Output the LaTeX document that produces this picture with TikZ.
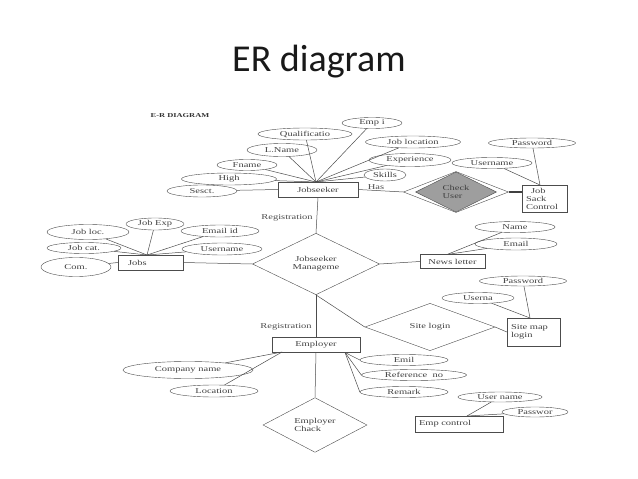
\documentclass[tikz,border=0pt]{standalone}
\usepackage{fontspec}
\setmainfont{Liberation Serif}[FakeStretch=1.4]
\newfontfamily\titlefont{Carlito}
\usetikzlibrary{shapes.geometric,positioning}

\begin{document}
\begin{tikzpicture}[x=1pt,y=-1pt,font=\fontsize{7.5}{8}\selectfont]
        % Define styles for nodes and edges
        \tikzstyle{attr} = [ellipse, draw=black!70, inner sep=0pt, text=black!75]
        \tikzstyle{entity} = [rectangle, draw=black!70, inner sep=0pt, text=black!75]
        \tikzstyle{rel} = [diamond, draw=black!70, inner sep=0pt, text=black!75]
        \tikzstyle{lbl} = [text=black!70]
        \tikzstyle{line} = [draw=black!70, line width=0.5pt]

        \useasboundingbox (0,0) rectangle (638,479);

        % Titles
        \node[font=\titlefont\fontsize{38}{40}\selectfont, text=black!90] (title) at (319,62) {ER diagram};
        \node[font=\bfseries\fontsize{6}{7}\selectfont, text=black!80] (erlabel) at (180,116) {E-R DIAGRAM};

        % Entities
        \node[entity, minimum width=80, minimum height=15] (js) at (318,189.5) {Jobseeker};
        \node[entity, minimum height=15, text width=45, inner xsep=10pt, align=left] (jobs) at (150.5,262.5) {Jobs};
        \node[entity, minimum width=65, minimum height=14] (news) at (452.5,261.5) {News letter};
        \node[entity, minimum height=27, text width=37, inner xsep=4pt, align=left] (jsc) at (544.5,198.5) {\ \ Job\\Sack\\Control};
        \node[entity, minimum height=28, text width=45, inner xsep=4pt, align=left] (sitemap) at (533.5,332) {Site map\\login};
        \node[entity, minimum width=88, minimum height=15] (emp) at (316,344.5) {Employer};
        \node[entity, minimum height=16, text width=80, inner xsep=4pt, align=left] (empctrl) at (459,424) {Emp control};

        % Relationships
        \node[rel, minimum width=105, minimum height=41] (checkouter) at (456,192) {};
        \node[rel, minimum width=81, minimum height=31, fill=black!38, align=left] (checkuser) at (456,192) {Check\\User};
        \node[rel, minimum width=127, minimum height=38, align=center] (jsm) at (316,264) {Jobseeker\\Manageme};
        \node[rel, minimum width=130, minimum height=37] (sitelogin) at (430,327) {Site login};
        \node[rel, minimum width=104, minimum height=40, align=left] (empcheck) at (315,425) {Employer\\Chack};

        % Jobseeker attributes
        \node[attr, minimum width=60, minimum height=11] (empi) at (372,123) {Emp i};
        \node[attr, minimum width=94, minimum height=12] (qual) at (305,134) {Qualificatio};
        \node[attr, minimum width=95, minimum height=12] (jobloca) at (413,142) {Job location};
        \node[attr, minimum width=70, minimum height=13] (lname) at (282,150) {L.Name};
        \node[attr, minimum width=82, minimum height=13] (exper) at (410,160) {Experience};
        \node[attr, minimum width=60, minimum height=11] (fname) at (247,165) {Fname};
        \node[attr, minimum width=42, minimum height=12] (skills) at (385,175) {Skills};
        \node[attr, minimum width=95, minimum height=12] (high) at (229,179) {High};
        \node[attr, minimum width=70, minimum height=12] (sesct) at (202,191) {Sesct.};
        \coordinate (jstop) at (316,182);

        % Job seek control attributes
        \node[attr, minimum width=87, minimum height=10] (jscpass) at (532,143) {Password};
        \node[attr, minimum width=80, minimum height=11] (jscuser) at (492,163) {Username};
        \coordinate (jsctop) at (540,185);

        % Jobs attributes
        \node[attr, minimum width=82, minimum height=15] (jobloc) at (88,232) {Job loc.};
        \node[attr, minimum width=58, minimum height=12] (jobexp) at (155,224) {Job Exp};
        \node[attr, minimum width=78, minimum height=12] (emailid) at (220,231) {Email id};
        \node[attr, minimum width=74, minimum height=11] (jobcat) at (84,248) {Job cat.};
        \node[attr, minimum width=80, minimum height=12] (jobsuser) at (222,249) {Username};
        \node[attr, minimum width=70, minimum height=19] (com) at (76,267) {Com.};
        \coordinate (jobstop) at (147,255);

        % News letter attributes
        \node[attr, minimum width=80, minimum height=11] (name) at (515,227) {Name};
        \node[attr, minimum width=82, minimum height=12] (email) at (516,244) {Email};
        \coordinate (newstop) at (447,254.5);

        % Site map attributes
        \node[attr, minimum width=87, minimum height=10] (smpass) at (523,281) {Password};
        \node[attr, minimum width=72, minimum height=11] (smuser) at (478,298) {Userna};
        \coordinate (smtop) at (530,318);

        % Employer attributes
        \node[attr, minimum width=130, minimum height=17] (compname) at (188,370) {Company name};
        \node[attr, minimum width=88, minimum height=12] (location) at (214,391) {Location};
        \node[attr, minimum width=88, minimum height=11] (emil) at (404,360) {Emil};
        \node[attr, minimum width=105, minimum height=11] (refno) at (414,375) {Reference~~no};
        \node[attr, minimum width=88, minimum height=11] (remark) at (404,392) {Remark};
        \coordinate (empleft) at (282,352);
        \coordinate (empright) at (345,352.5);

        % Emp control attributes
        \node[attr, minimum width=84, minimum height=10] (ecuser) at (500,397) {User name};
        \node[attr, minimum width=66, minimum height=10] (ecpass) at (535,412) {Passwor};
        \coordinate (ectop) at (467,416);

        % Labels
        \node[lbl] (has) at (376,187.5) {Has};
        \node[lbl] (reg1) at (287,218) {Registration};
        \node[lbl] (reg2) at (286,327) {Registration};

        % Attribute lines
        \foreach \a in {empi,qual,jobloca,lname,exper,fname,skills,high}
            \draw[line] (\a) -- (jstop);
        \draw[line] (sesct) -- (js.west);
        \foreach \a in {jscpass,jscuser}
            \draw[line] (\a) -- (jsctop);
        \foreach \a in {jobloc,jobexp,emailid,jobcat,jobsuser}
            \draw[line] (\a) -- (jobstop);
        \draw[line] (com) -- (jobs.west);
        \foreach \a in {name,email}
            \draw[line] (\a) -- (newstop);
        \foreach \a in {smpass,smuser}
            \draw[line] (\a) -- (smtop);
        \foreach \a in {compname,location}
            \draw[line] (\a) -- (empleft);
        \foreach \a in {emil,refno,remark}
            \draw[line] (\a.west) -- (empright);
        \foreach \a in {ecuser,ecpass}
            \draw[line] (\a) -- (ectop);

        % Relationship lines
        \draw[line] (js.east) -- (checkouter.west);
        \draw[draw=black!75, line width=1.3pt] (checkouter.east) -- (jsc.west |- checkouter.east);
        \draw[line] (js.south) -- (jsm.north);
        \draw[line] (jobs.east) -- (jsm.west);
        \draw[line] (jsm.east) -- (news.west);
        \draw[line] (jsm.south) -- (emp.north);
        \draw[line] (jsm.south) -- (sitelogin.west);
        \draw[line] (sitelogin.east) -- (sitemap.west);
        \draw[line] (emp.south) -- (empcheck.north);
\end{tikzpicture}
\end{document}
